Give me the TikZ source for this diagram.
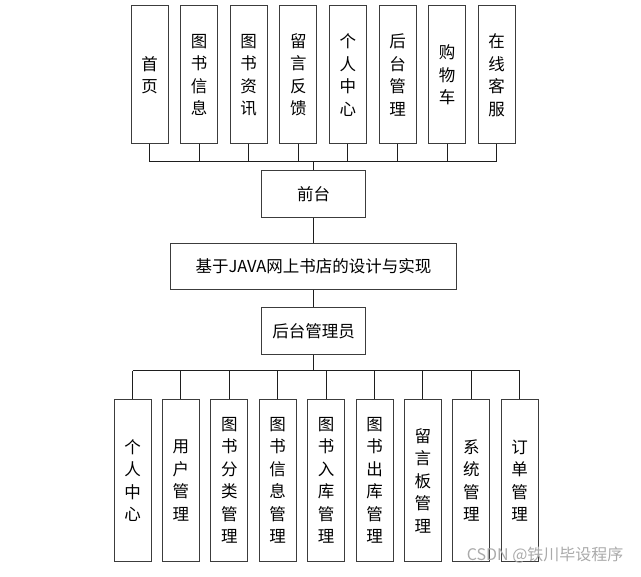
\documentclass[tikz,border=0pt]{standalone}
\usepackage{fontspec}
\newfontfamily\cjk{Noto Sans CJK SC}
\usetikzlibrary{positioning}
\definecolor{boxline}{RGB}{60, 60, 60}
\definecolor{linkcolor}{RGB}{30, 30, 30}
\definecolor{markcolor}{RGB}{170, 170, 170}
\tikzset{
boxtext/.style={
  align=center,
  font=\cjk\fontsize{16.5}{22.5}\selectfont,
  text=black
},
box/.style={
  draw=boxline,
  line width=1pt,
  inner sep=0pt,
  boxtext
},
topleaf/.style={
  box,
  minimum width=37pt,
  minimum height=138pt
},
bottomleaf/.style={
  box,
  minimum width=37pt,
  minimum height=162pt
},
midbox/.style={
  box,
  minimum width=103.5pt,
  minimum height=46.5pt
},
titlebox/.style={
  box,
  font=\cjk\fontsize{16.5}{18}\selectfont,
  minimum width=286pt,
  minimum height=46.5pt
},
link/.style={
  draw=linkcolor,
  line width=1pt
}
}
\begin{document}
\begin{tikzpicture}[x=1pt, y=-1pt]
  \useasboundingbox (0,0) rectangle (641,577);

  % top row
  \foreach \txt [count=\i] in {{首\\页}, {图\\书\\信\\息}, {图\\书\\资\\讯}, {留\\言\\反\\馈},
      {个\\人\\中\\心}, {后\\台\\管\\理}, {购\\物\\车}, {在\\线\\客\\服}}
    \node[topleaf] (top\i) at ({149.5+49.6*(\i-1)}, 75) {\txt};

  % middle column
  \node[midbox] (front) at (313.5, 194) {前台};
  \node[titlebox] (title) at (313.5, 266.5) {基于JAVA网上书店的设计与实现};
  \node[midbox] (admin) at (313.5, 331) {后台管理员};

  % bottom row
  \foreach \txt [count=\i] in {{个\\人\\中\\心}, {用\\户\\管\\理}, {图\\书\\分\\类\\管\\理},
      {图\\书\\信\\息\\管\\理}, {图\\书\\入\\库\\管\\理}, {图\\书\\出\\库\\管\\理},
      {留\\言\\板\\管\\理}, {系\\统\\管\\理}, {订\\单\\管\\理}}
    \node[bottomleaf] (bot\i) at ({132.5+48.4*(\i-1)}, 480.5) {\txt};

  % buses
  \coordinate (topbus) at (313.5, 162);
  \coordinate (botbus) at (313.5, 371);

  \foreach \i in {1,...,8}
    \draw[link] (top\i.south) -- (top\i.south |- topbus);
  \draw[link] (top1.south |- topbus) -- (top8.south |- topbus);
  \draw[link, line width=1.6pt] (topbus) -- (front.north);

  \draw[link] (front) -- (title);
  \draw[link] (title) -- (admin);

  \draw[link, line width=1.6pt] (admin.south) -- (botbus);
  \draw[link] (bot1.north |- botbus) -- (bot9.north |- botbus);
  \foreach \i in {1,...,9}
    \draw[link] (bot\i.north |- botbus) -- (bot\i.north);

  % watermark
  \node[font=\cjk\fontsize{16}{18}\selectfont, text=markcolor, anchor=east] (mark) at (627, 555) {CSDN @铁川毕设程序};
\end{tikzpicture}
\end{document}
